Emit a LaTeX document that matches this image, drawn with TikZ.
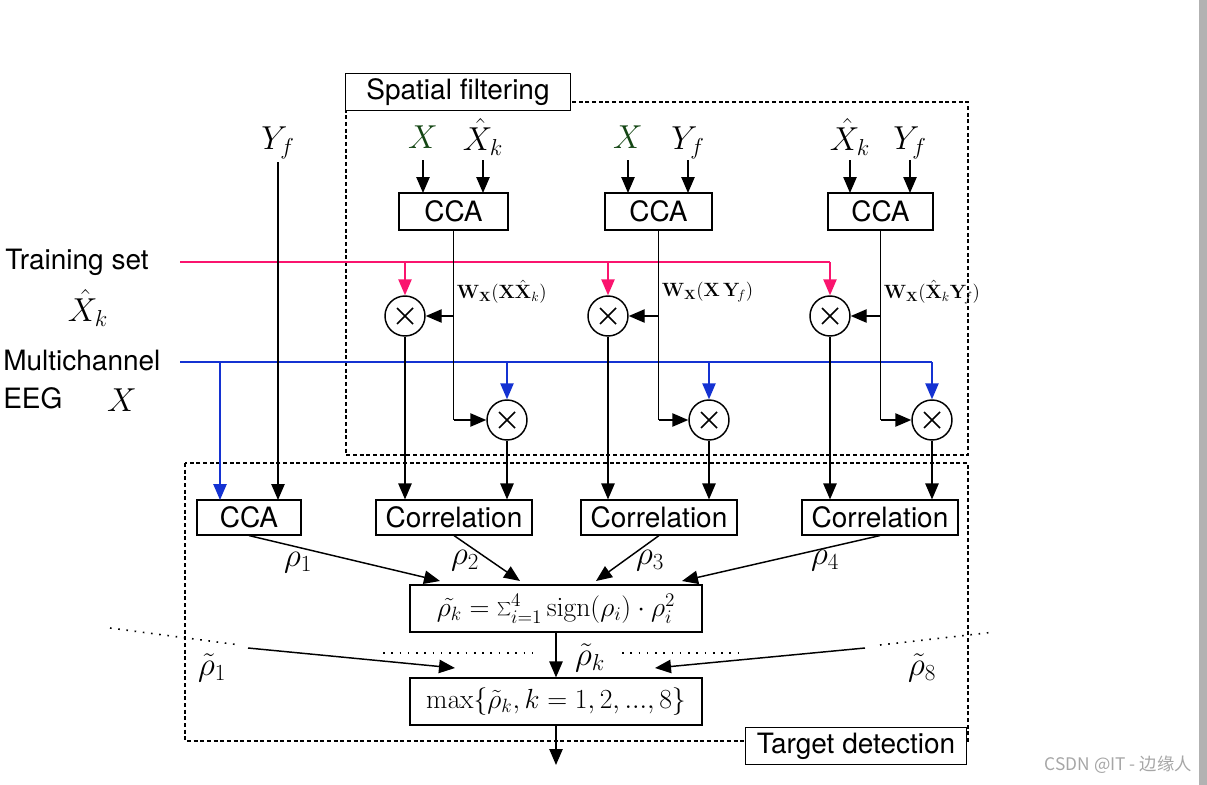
\documentclass[tikz,border=0pt]{standalone}
\usepackage[no-math]{fontspec}
\setmainfont{TeX Gyre Heros}
\newfontfamily\cjk{Noto Sans CJK SC}
\usetikzlibrary{arrows.meta,calc}
\definecolor{pinkc}{RGB}{250,20,110}
\definecolor{bluec}{RGB}{20,50,210}
\definecolor{greenc}{RGB}{20,70,20}
\begin{document}
\begin{tikzpicture}[x=0.75pt,y=-0.75pt,
  every node/.style={inner sep=0pt,font=\fontsize{21}{24}\selectfont},
  box/.style={draw,line width=1.1pt,minimum height=27pt},
  mathl/.style={font=\fontsize{27}{30}\selectfont},
  mul/.style={draw,circle,line width=1.1pt,minimum size=30pt,
    path picture={\draw[line width=1.1pt] (path picture bounding box.south west)++(0.3*30pt,0.3*30pt) -- ($(path picture bounding box.north east)+(-0.3*30pt,-0.3*30pt)$);
      \draw[line width=1.1pt] ($(path picture bounding box.north west)+(0.3*30pt,-0.3*30pt)$) -- ($(path picture bounding box.south east)+(-0.3*30pt,0.3*30pt)$);}},
  arr/.style={line width=1.1pt,-{Triangle[length=12pt,width=10pt]}},
  ln/.style={line width=1.1pt},
  dashframe/.style={line width=1pt,dash pattern=on 3pt off 2pt},
  dots/.style={line width=1.2pt,dash pattern=on 1.2pt off 5pt}]
\useasboundingbox (0,0) rectangle (1207,785);
\fill[gray!60] (1199,0) rectangle (1207,785);
% dashed frames
\draw[dashframe] (346,102) rectangle (968,455);
\draw[dashframe] (185,463) rectangle (968,741);
\node[box,fill=white,minimum width=169pt,minimum height=28pt] (sf) at (458,92) {Spatial filtering};
\node[box,fill=white,minimum width=166pt,minimum height=28pt] (td) at (856,746) {Target detection};
% left labels
\node[anchor=west] (train) at (5,262) {Training set};
\node[mathl] (xhl) at (88,308) {$\hat{X}_k$};
\node[anchor=west] (mc) at (3,361) {Multichannel};
\node[anchor=west] (eeg) at (3,398) {EEG};
\node[mathl] (xl) at (122,400) {$X$};
\node[mathl] (yf0) at (278,143) {$Y_f$};
% top labels
\node[mathl,text=greenc] (a1) at (423,137) {$X$};
\node[mathl] (a2) at (483,137) {$\hat{X}_k$};
\node[mathl,text=greenc] (b1) at (628,137) {$X$};
\node[mathl] (b2) at (688,143) {$Y_f$};
\node[mathl] (c1) at (850,137) {$\hat{X}_k$};
\node[mathl] (c2) at (910,143) {$Y_f$};
% CCA boxes
\node[box,minimum width=82pt,minimum height=28pt] (ca) at (453.5,211.5) {CCA};
\node[box,minimum width=80pt,minimum height=28pt] (cb) at (658.5,211.5) {CCA};
\node[box,minimum width=79pt,minimum height=28pt] (cc) at (880.5,211.5) {CCA};
\foreach \x in {423,483,628,688,850,910}
  \draw[arr] (\x,160) -- (\x,193);
% multipliers
\node[mul] (m1a) at (405,316) {};
\node[mul] (m1b) at (608,316) {};
\node[mul] (m1c) at (830,316) {};
\node[mul] (m2a) at (507,420) {};
\node[mul] (m2b) at (709,420) {};
\node[mul] (m2c) at (932,420) {};
% bottom boxes
\node[box,minimum width=78pt,minimum height=26pt] (cca0) at (249,517.5) {CCA};
\node[box,minimum width=117pt,minimum height=26pt] (co1) at (454,517.5) {Correlation};
\node[box,minimum width=117pt,minimum height=26pt] (co2) at (659,517.5) {Correlation};
\node[box,minimum width=117pt,minimum height=26pt] (co3) at (880,517.5) {Correlation};
\node[box,minimum width=219pt,minimum height=35pt,font=\fontsize{21}{24}\selectfont] (sum) at (556,608.5)
  {$\tilde{\rho_k}=\sum_{i=1}^{4}\mathrm{sign}(\rho_i)\cdot\rho_i^2$};
\node[box,minimum width=219pt,minimum height=35pt,font=\fontsize{22}{24}\selectfont] (mx) at (556,701.5)
  {$\max\{\tilde{\rho}_k,k=1,2,...,8\}$};
% pink training line
\draw[ln,pinkc] (180,262) -- (830,262);
\foreach \m in {m1a,m1b,m1c} \draw[arr,pinkc] (\m |- 0,262) -- (\m.north);
% blue line
\draw[ln,bluec] (180,362) -- (932,362);
\foreach \m in {m2a,m2b,m2c} \draw[arr,bluec] (\m |- 0,362) -- (\m.north);
\draw[arr,bluec] (220,362) -- (220,500);
% Yf to CCA
\draw[arr] (278,162) -- (278,500);
% CCA outputs
\foreach \c/\p/\q/\lab in {ca/m1a/m2a/{\mathbf{W_X}(\mathbf{X}\hat{\mathbf{X}}_{k})},cb/m1b/m2b/{\mathbf{W_X}(\mathbf{X}\,\mathbf{Y}_{\!f})},cc/m1c/m2c/{\mathbf{W_X}(\hat{\mathbf{X}}_{k}\mathbf{Y}_{\!f})}}{
  \draw[ln] (\c.south) -- (\c.south |- \q) coordinate (t);
  \draw[arr] (t) -- (\q.west);
  \draw[arr] (\c.south |- \p) -- (\p.east);
  \node[anchor=west,font=\fontsize{14}{16}\selectfont] at ($(\c.south |- 0,292)+(3,0)$) {$\lab$};
}
% down to correlations
\draw[arr] (m1a.south) -- (m1a.south |- co1.north);
\draw[arr] (m2a.south) -- (m2a.south |- co1.north);
\draw[arr] (m1b.south) -- (m1b.south |- co2.north);
\draw[arr] (m2b.south) -- (m2b.south |- co2.north);
\draw[arr] (m1c.south) -- (m1c.south |- co3.north);
\draw[arr] (m2c.south) -- (m2c.south |- co3.north);
% to sum
\draw[arr] (cca0.south) -- (440,581);
\draw[arr] (co1.south) -- (520,581);
\draw[arr] (co2.south) -- (596,581);
\draw[arr] (co3.south) -- (682,581);
\node[mathl] at (298,563) {$\rho_1$};
\node[mathl] at (465,561) {$\rho_2$};
\node[mathl] at (650,561) {$\rho_3$};
\node[mathl] at (825,561) {$\rho_4$};
% to max
\draw[arr] (sum.south) -- (mx.north);
\node[mathl] at (590,658) {$\tilde{\rho}_k$};
\draw[dots] (110,628) -- (240,645);
\draw[arr] (248,648) -- (455,668);
\draw[dots] (880,645) -- (995,632);
\draw[arr] (865,648) -- (655,668);
\draw[dots] (383,653) -- (535,653);
\draw[dots] (622,653) -- (740,653);
\node[mathl] at (212,668) {$\tilde{\rho}_1$};
\node[mathl] at (922,668) {$\tilde{\rho}_8$};
\draw[arr] (mx.south) -- (556,765);
% watermark
\node[anchor=east,text=gray!70,font=\fontsize{13}{15}\cjk] at (1192,765) {CSDN @IT - 边缘人};
\end{tikzpicture}
\end{document}
